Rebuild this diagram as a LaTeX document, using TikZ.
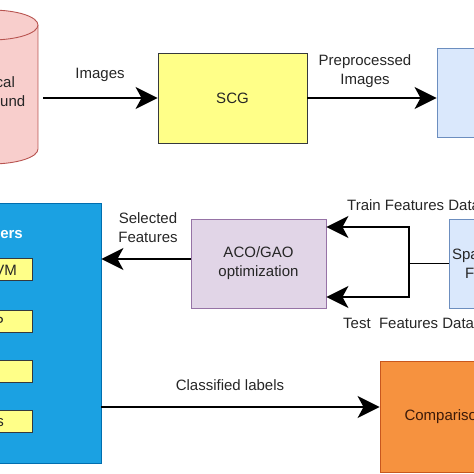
\documentclass[tikz,border=0pt]{standalone}
\usepackage{fontspec}
\setmainfont{Liberation Sans}
\usetikzlibrary{arrows.meta}

\definecolor{dbfill}{HTML}{F8CECC}
\definecolor{dbline}{HTML}{B85450}
\definecolor{scgfill}{HTML}{FFFF88}
\definecolor{scgline}{HTML}{36393D}
\definecolor{prefill}{HTML}{DAE8FC}
\definecolor{preline}{HTML}{6C8EBF}
\definecolor{acofill}{HTML}{E1D5E7}
\definecolor{acoline}{HTML}{9673A6}
\definecolor{clffill}{HTML}{1BA1E2}
\definecolor{clfline}{HTML}{006EAF}
\definecolor{cmpfill}{HTML}{F6923F}
\definecolor{cmpline}{HTML}{C8571E}
\definecolor{txt}{HTML}{262626}
\tikzset{
  txtfont/.style={font=\fontsize{15}{19}\selectfont},
  box/.style={draw,line width=0.9pt,inner sep=2pt,align=center,text=txt,txtfont},
  scgbox/.style={box,fill=scgfill,draw=scgline},
  prebox/.style={box,fill=prefill,draw=preline},
  acobox/.style={box,fill=acofill,draw=acoline},
  clfbox/.style={box,fill=clffill,draw=clfline},
  algbox/.style={box,fill=scgfill,draw=scgline,minimum width=100pt,minimum height=22pt},
  cmpbox/.style={box,fill=cmpfill,draw=cmpline,text=cmpline!30!black},
  lbl/.style={txtfont,text=txt,inner sep=0pt,align=center},
  flow/.style={-{Stealth[length=22pt,width=22pt,inset=6pt]},line width=1.3pt},
}

\begin{document}
\begin{tikzpicture}[x=1pt,y=-1pt]
    \useasboundingbox (0,0) rectangle (474,474);
    \clip (0,0) rectangle (474,474);

    % database
    \fill [dbfill] (-56,25) rectangle (38,149);
    \fill [dbfill] (-9,149) ellipse [x radius=47pt,y radius=15pt];
    \draw [dbline,line width=0.9pt] (38,25) -- (38,149)
      arc [start angle=0,end angle=-180,x radius=47pt,y radius=15pt];
    \draw [dbline,line width=0.9pt,fill=dbfill]
      (-9,25) ellipse [x radius=47pt,y radius=15pt];
    \node [lbl] (db) at (-11,92) {Medical\\Ultrasound};
    \coordinate (dbout) at (43,98);

    \node [scgbox,minimum width=149pt,minimum height=90pt] (scg) at (232.5,98) {SCG};
    \node [prebox,minimum width=120pt,minimum height=89pt] (pre) at (497,92.5) {};

    \draw [flow] (dbout) -- (scg.west);
    \node [lbl] at (100,75) {Images};
    \draw [flow] (scg.east) -- (scg.east -| pre.west);
    \node [lbl] at (365,71) {Preprocessed\\Images};

    % classifiers
    \node [clfbox,minimum width=240pt,minimum height=260pt] (clf) at (-19,333) {};
    \node [lbl,anchor=east,text=white,font=\fontsize{15}{19}\selectfont\bfseries]
      (clfname) at (23,233) {Classifiers};
    \node [algbox] (svm) at (-18,269.5) {};
    \node [algbox] (mlp) at (-18,321.5) {};
    \node [algbox] (alg3) at (-18,371) {};
    \node [algbox] (alg4) at (-18,421) {};
    \node [lbl,anchor=east] at (17,270) {SVM};
    \node [lbl,anchor=east] at (4,322) {MLP};
    \node [lbl,anchor=east] at (4,421) {DTs};

    \node [acobox,minimum width=135pt,minimum height=89pt] (aco) at (258.5,263.5)
      {ACO/GAO\\optimization};
    \node [prebox,minimum height=89pt,text width=124pt,align=left,inner xsep=3pt]
      (sp) at (514,263.5) {Spatial Domain\\\hspace*{13pt}Features};
    \node [cmpbox,minimum width=130pt,minimum height=111pt] (cmp) at (445,416.5)
      {Comparison};

    \coordinate (split) at (409,263.5);
    \draw [line width=1.3pt] (sp.west) -- (split);
    \draw [flow] (split) |- ([yshift=36.5pt]aco.east);
    \draw [flow] (split) |- ([yshift=-33.5pt]aco.east);
    \node [lbl,anchor=west] at (347,205) {Train Features Data};
    \node [lbl,anchor=west] at (343,323) {Test\ \ Features Data};

    \draw [flow] ([yshift=4.5pt]aco.west) -- ([yshift=4.5pt]aco.west -| clf.east);
    \node [lbl] at (148,228) {Selected\\Features};

    \draw [flow] ([yshift=9.5pt]cmp.west -| clf.east) -- ([yshift=9.5pt]cmp.west);
    \node [lbl] at (230,385) {Classified labels};
\end{tikzpicture}
\end{document}
